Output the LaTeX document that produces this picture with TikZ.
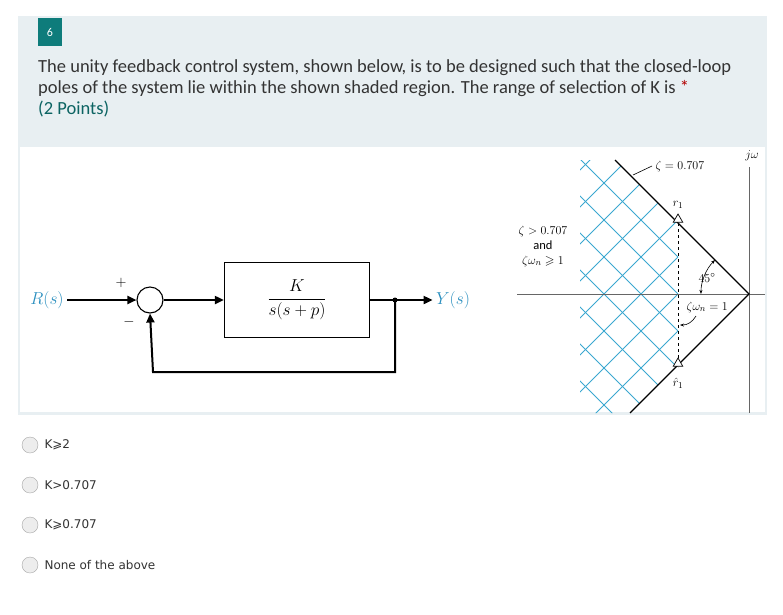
\documentclass[tikz,border=0pt]{standalone}
\usepackage{fontspec}
\usepackage{amsmath,amssymb}
\setmainfont{Carlito}
\newfontfamily\opt{DejaVu Sans}
\usetikzlibrary{arrows.meta,shapes.geometric}
\definecolor{panel}{HTML}{E8EFF2}
\definecolor{teal}{HTML}{0E7C7B}
\definecolor{hatch}{HTML}{3AA8D0}
\definecolor{sig}{HTML}{2A8FBF}
\definecolor{txt}{HTML}{333333}
\begin{document}
\begin{tikzpicture}[x=1pt,y=-1pt,
  blk/.style={draw,line width=1.3pt},
  sarr/.style={line width=2pt,-{Triangle[length=9pt,width=8pt]}},
  radio/.style={circle,draw=black!35,fill=black!7,minimum size=16pt,inner sep=0},
  optt/.style={anchor=west,text=txt,font=\opt\fontsize{12}{14}\selectfont},
  lab/.style={font=\fontsize{12.5}{14}\selectfont\rmfamily},
  pole/.style={draw,isosceles triangle,isosceles triangle apex angle=60,shape border rotate=90,inner sep=2.2pt,fill=white,line width=0.7pt}]
\useasboundingbox (0,0) rectangle (783,614);
\fill[white] (0,0) rectangle (783,614);
\fill[panel] (18,16) rectangle (767,415);
\fill[white] (20,147) rectangle (765,412);
\node[fill=teal,minimum width=24pt,minimum height=28pt,text=white,font=\fontsize{12}{14}\selectfont] (num) at (50,32) {6};
\node[anchor=north west,text=txt,align=left,inner sep=0,font=\fontsize{18.5}{21}\selectfont] (q) at (38,59)
{The unity feedback control system, shown below, is to be designed such that the closed-loop\\
poles of the system lie within the shown shaded region. The range of selection of K is {\color{red!70!black}*}\\
{\color{teal!80!black}(2 Points)}};
% block diagram
\node[text=sig,font=\fontsize{18}{20}\selectfont\rmfamily] (R) at (47,300) {$R(s)$};
\node[circle,draw,line width=1.1pt,minimum size=26pt,inner sep=0] (sum) at (150,300) {};
\node[blk,minimum width=145pt,minimum height=75pt,inner sep=0,font=\fontsize{17}{20}\selectfont] (G) at (297,300) {$\dfrac{\;\;K\;\;}{s(s+p)}$};
\node[text=sig,font=\fontsize{18}{20}\selectfont\rmfamily] (Y) at (453,300) {$Y(s)$};
\node[font=\fontsize{14}{14}\selectfont] (plus) at (121,283) {$+$};
\node[font=\fontsize{14}{14}\selectfont] (minus) at (129,322) {$-$};
\coordinate (dot) at (395,300);
\coordinate (fb1) at (395,372);
\coordinate (fb2) at (153,372);
\fill (dot) circle (2.5pt);
\draw[sarr] (R.east) -- (sum.west);
\draw[sarr] (sum.east) -- (G.west);
\draw[sarr] (G.east) -- (Y.west);
\draw[sarr] (dot) -- (fb1) -- (fb2) -- (sum.south);
% s-plane
\begin{scope}
\clip (580,160) -- (615,160) -- (678,223) -- (678,365) -- (630,413) -- (580,413) -- cycle;
\foreach \k in {-6,...,8} {
  \draw[hatch,line width=0.9pt] ({678-37*\k-150},{294-150}) -- ({678-37*\k+150},{294+150});
  \draw[hatch,line width=0.9pt] ({678-37*\k-150},{294+150}) -- ({678-37*\k+150},{294-150});
}
\end{scope}
\coordinate (O) at (749,294);
\draw[black!60,line width=0.9pt] (517,294) -- (765,294);
\draw[black!60,line width=0.9pt] (749,167) -- (749,413);
\draw[line width=1.1pt] (615,160) -- (O) -- (630,413);
\draw[dashed,line width=0.7pt] (678,223) -- (678,367);
\node[pole] (r1) at (678,220) {};
\node[pole] (r2) at (678,364) {};
\node[lab] (r1l) at (678,205) {$r_1$};
\node[lab] (r2l) at (678,383) {$\hat r_1$};
\node[lab] (jw) at (752,156) {$j\omega$};
\node[lab,anchor=west] (zl) at (652,166) {$\zeta = 0.707$};
\draw[line width=0.6pt] (633,175) -- (zl.west);
\node[lab,align=center,inner sep=0] (cond) at (543,246) {$\zeta > 0.707$\\[1pt] and\\[1pt] $\zeta\omega_n \geqslant 1$};
\node[lab] (deg) at (707,278) {$45^\circ$};
\draw[line width=0.6pt,{Stealth[length=4pt]}-{Stealth[length=4pt]}] (715,260) arc[start angle=225,end angle=180,radius=48];
\node[lab,anchor=west] (zw) at (683,307) {$\zeta\omega_n = 1$};
\coordinate (zwa) at (680,325);
\draw[line width=0.6pt,-{Stealth[length=4pt]}] (696,316) to[bend left=30] (zwa);
% options
\foreach \y/\t [count=\i] in {445/K⩾2,485/K>0.707,525/K⩾0.707,565/None of the above} {
  \node[radio] (rb\i) at (30,\y) {};
  \node[optt] (ot\i) at (41,\y) {\t};
}
\end{tikzpicture}
\end{document}
